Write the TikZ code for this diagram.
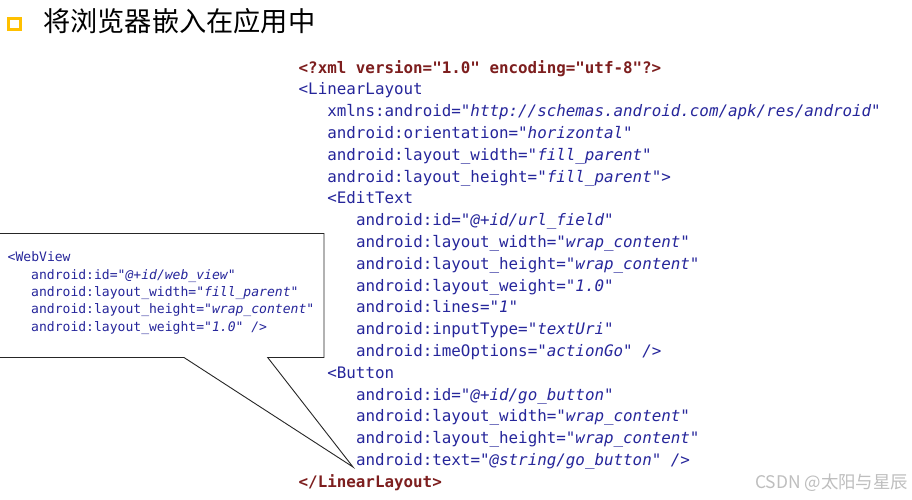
\documentclass[tikz,border=0pt]{standalone}
\usepackage{fontspec}
\newfontfamily\codefont{DejaVu Sans Mono}
\newfontfamily\cjk{Noto Sans CJK SC}
\definecolor{codeblue}{RGB}{38,38,155}
\definecolor{codemaroon}{RGB}{125,30,30}
\definecolor{markgold}{RGB}{255,192,0}
\definecolor{wmgray}{RGB}{190,190,190}
\newcommand\vv[1]{{\itshape #1}}
\tikzset{
  code/.style={anchor=base west, inner sep=0pt, text=codeblue,
    font=\codefont\fontsize{15.85}{18}\selectfont},
  codehead/.style={code, text=codemaroon, font=\codefont\bfseries\fontsize{15.85}{18}\selectfont},
  small/.style={anchor=base west, inner sep=0pt, text=codeblue,
    font=\codefont\fontsize{13.06}{15}\selectfont},
  callout/.style={draw=black!85, line width=0.9pt, fill=white, line join=miter},
}
\begin{document}
\begin{tikzpicture}[x=1pt,y=-1pt]
\useasboundingbox[fill=white] (0,0) rectangle (912,499);
% title
\draw[markgold, line width=2.8pt] (8.5,18.5) rectangle (20.5,29.5);
\node[anchor=base west, inner sep=0pt, font=\cjk\fontsize{27.2}{30}\selectfont] (title) at (43,31.5) {将浏览器嵌入在应用中};
% callout
\coordinate (tip) at (353,467);
\draw[callout] (-3,233.5) -- (324,233.5) -- (324,357.5) -- (267.7,357.5) -- (tip) -- (184,357.5) -- (-3,357.5) -- cycle;
\node[small] (c1) at (7.5,261.5) {<WebView};
\node[small] (c2) at (31,279) {android:id=\vv{"@+id/web\_view"}};
\node[small] (c3) at (31,296.4) {android:layout\_width=\vv{"fill\_parent"}};
\node[small] (c4) at (31,313.8) {android:layout\_height=\vv{"wrap\_content"}};
\node[small] (c5) at (31,331.2) {android:layout\_weight=\vv{"1.0" />}};
% main code
\node[codehead] (l1) at (298.5,73) {<?xml version="1.0" encoding="utf-8"?>};
\node[code] (l2) at (298.5,94.8) {<LinearLayout};
\node[code] (l3) at (327.15,116.6) {xmlns:android=\vv{"http://schemas.android.com/apk/res/android"}};
\node[code] (l4) at (327.15,138.4) {android:orientation=\vv{"horizontal"}};
\node[code] (l5) at (327.15,160.2) {android:layout\_width=\vv{"fill\_parent"}};
\node[code] (l6) at (327.15,182) {android:layout\_height=\vv{"fill\_parent"}>};
\node[code] (l7) at (327.15,203.8) {<EditText};
\node[code] (l8) at (355.8,225.6) {android:id=\vv{"@+id/url\_field"}};
\node[code] (l9) at (355.8,247.4) {android:layout\_width=\vv{"wrap\_content"}};
\node[code] (l10) at (355.8,269.2) {android:layout\_height=\vv{"wrap\_content"}};
\node[code] (l11) at (355.8,291) {android:layout\_weight=\vv{"1.0"}};
\node[code] (l12) at (355.8,312.8) {android:lines=\vv{"1"}};
\node[code] (l13) at (355.8,334.6) {android:inputType=\vv{"textUri"}};
\node[code] (l14) at (355.8,356.4) {android:imeOptions=\vv{"actionGo" />}};
\node[code] (l15) at (327.15,378.2) {<Button};
\node[code] (l16) at (355.8,400) {android:id=\vv{"@+id/go\_button"}};
\node[code] (l17) at (355.8,421.8) {android:layout\_width=\vv{"wrap\_content"}};
\node[code] (l18) at (355.8,443.6) {android:layout\_height=\vv{"wrap\_content"}};
\node[code] (l19) at (355.8,465.4) {android:text=\vv{"@string/go\_button" />}};
\node[codehead] (l20) at (298.5,487.2) {</LinearLayout>};
% watermark
\node[anchor=base west, inner sep=0pt, text=wmgray, font=\cjk\fontsize{17.4}{19}\selectfont] (wm) at (755,488.5) {CSDN @太阳与星辰};
\end{tikzpicture}
\end{document}
